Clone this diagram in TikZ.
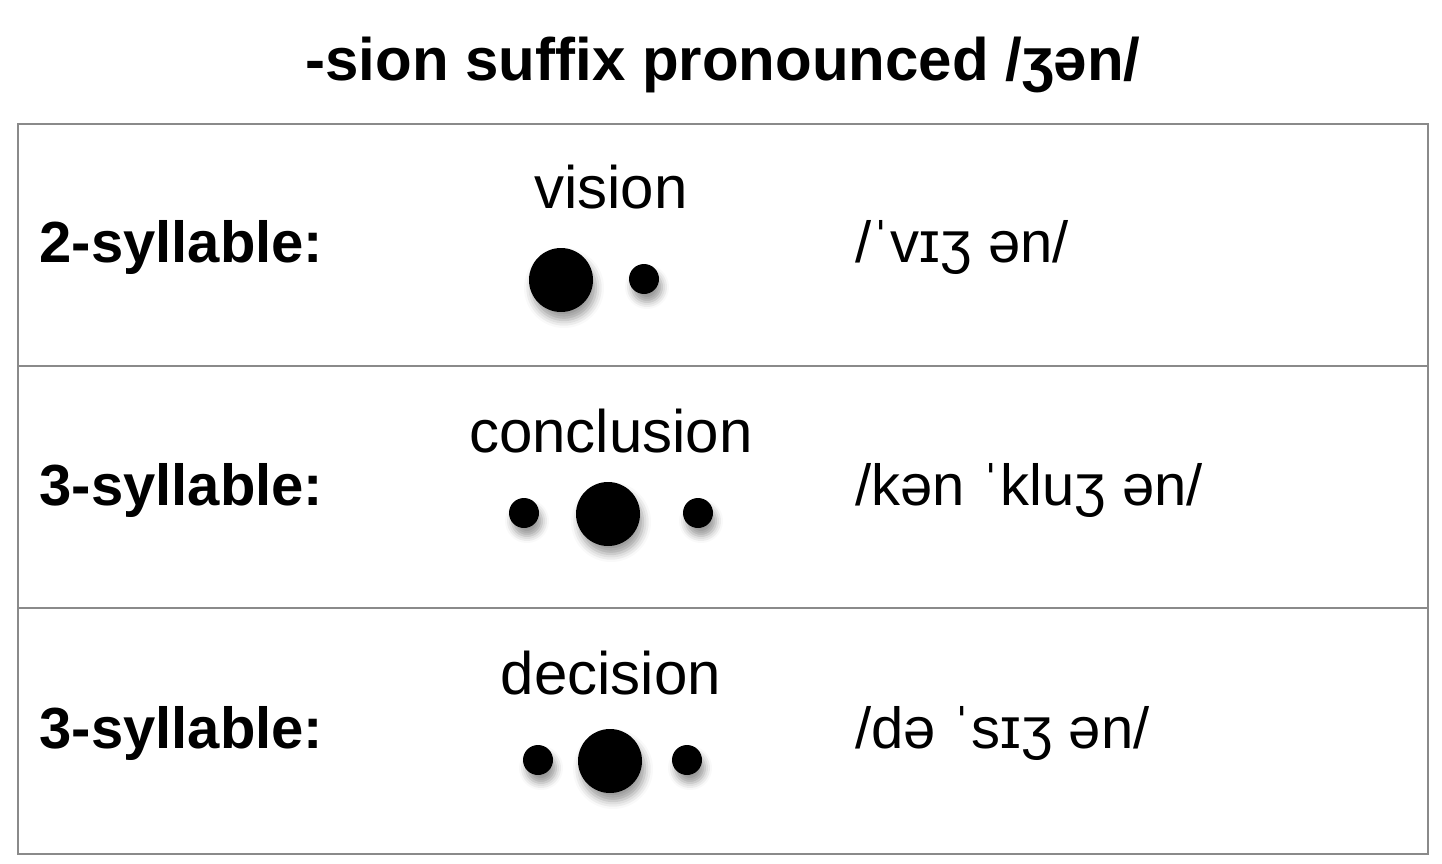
\documentclass[tikz,border=0pt]{standalone}
\usepackage{fontspec}
\setmainfont{Liberation Sans}
\usetikzlibrary{shadows.blur}
\definecolor{frame}{HTML}{8A8A8A}
\begin{document}
\begin{tikzpicture}[x=1pt,y=-1pt,
  lab/.style={anchor=west,font=\fontsize{58}{62}\selectfont\bfseries},
  word/.style={font=\fontsize{60}{64}\selectfont},
  ipa/.style={anchor=west,font=\fontsize{58}{62}\selectfont},
  big/.style={circle,fill=black,minimum size=64pt,inner sep=0pt,blur shadow={shadow xshift=3pt,shadow yshift=-8pt,shadow blur radius=8pt,shadow opacity=40}},
  small/.style={circle,fill=black,minimum size=30pt,inner sep=0pt,blur shadow={shadow xshift=3pt,shadow yshift=-8pt,shadow blur radius=7pt,shadow opacity=40}}]
\useasboundingbox (0,0) rectangle (1442,864);
\node[font=\fontsize{60}{64}\selectfont\bfseries] (title) at (723,65) {-sion suffix pronounced /ʒən/};
\draw[frame,line width=2.5pt] (18,124) rectangle (1428,854);
\draw[frame,line width=2.5pt] (18,366) -- (1428,366);
\draw[frame,line width=2.5pt] (18,608) -- (1428,608);
% row 1
\node[lab] (l1) at (36,248) {2-syllable:};
\node[word] (w1) at (611,187) {vision};
\node[big] (b1) at (561,280) {};
\node[small] (s1) at (644,279) {};
\node[ipa] (p1) at (852,248) {/ˈvɪʒ ən/};
% row 2
\node[lab] (l2) at (36,490) {3-syllable:};
\node[word] (w2) at (611,431) {conclusion};
\node[small] (s2a) at (524,513) {};
\node[big] (b2) at (608,514) {};
\node[small] (s2b) at (698,513) {};
\node[ipa] (p2) at (852,490) {/kən ˈkluʒ ən/};
% row 3
\node[lab] (l3) at (36,733) {3-syllable:};
\node[word] (w3) at (611,673) {decision};
\node[small] (s3a) at (538,760) {};
\node[big] (b3) at (610,761) {};
\node[small] (s3b) at (687,760) {};
\node[ipa] (p3) at (852,733) {/də ˈsɪʒ ən/};
\end{tikzpicture}
\end{document}
